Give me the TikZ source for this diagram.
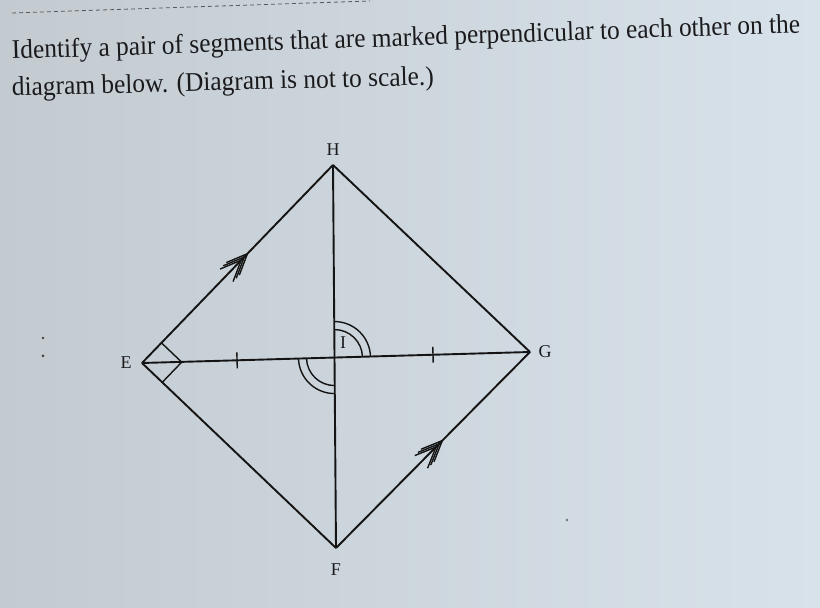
\documentclass[tikz,border=0pt]{standalone}
\usepackage{fontspec}
\setmainfont{Liberation Serif}
\usetikzlibrary{calc,angles,decorations.markings}
\definecolor{bgL}{RGB}{195,203,209}
\definecolor{bgR}{RGB}{216,226,234}
\definecolor{ink}{RGB}{20,20,20}
\definecolor{txt}{RGB}{26,26,28}
\tikzset{
  seg/.style={draw=ink, line width=1.9pt},
  lbl/.style={text=txt, font=\fontsize{18}{20}\selectfont, inner sep=0pt},
  qline/.style={text=txt, font=\fontsize{27}{30}\selectfont, anchor=base west, inner sep=0pt},
  tickmark/.style={draw=ink, line width=1.4pt},
  arcmark/.style={draw=ink, line width=1.4pt},
  triarr/.style={postaction={decorate}, decoration={markings,
     mark=at position #1 with {
       \foreach \k in {0,4.5,9}{
         \draw[ink, line width=1.4pt] (-\k pt-21pt,9pt) -- (-\k pt,0pt) -- (-\k pt-21pt,-9pt);
       }}}}
}
\begin{document}
\begin{tikzpicture}[x=1pt,y=1pt]
\useasboundingbox (0,0) rectangle (820,608);
\shade[left color=bgL, right color=bgR] (0,0) rectangle (820,608);
% top dashed border fragment
\coordinate (d1) at (12,595);
\coordinate (d2) at (370,607);
\draw[gray!70!black, line width=0.8pt, dash pattern=on 4pt off 3pt] (d1) -- (d2);
% question text
\node[qline, rotate=1.9] (q1) at (12,549) {\scalebox{0.94}[1]{Identify a pair of segments that are marked perpendicular to each other on the}};
\node[qline, rotate=1.5] (q2) at (12,512) {\scalebox{0.94}[1]{diagram below. (Diagram is not to scale.)}};
% points
\coordinate (H) at (333,443);
\coordinate (F) at (336,60);
\coordinate (E) at (142,245);
\coordinate (G) at (530,256);
\coordinate (I) at (intersection of E--G and H--F);
% segments
\draw[seg, triarr=0.552] (E) -- (H);
\draw[seg] (H) -- (G);
\draw[seg] (E) -- (F);
\draw[seg, triarr=0.548] (F) -- (G);
\draw[seg] (E) -- (G);
\draw[seg] (H) -- (F);
% right angle at E
\coordinate (e1) at ($(E)!28pt!(H)$);
\coordinate (e2) at ($(E)!28pt!(F)$);
\coordinate (e3) at ($(e1)+(e2)-(E)$);
\draw[tickmark] (e1) -- (e3) -- (e2);
% tick marks on EI and IG
\coordinate (t1) at ($(E)!0.245!(G)$);
\coordinate (t2) at ($(E)!0.750!(G)$);
\draw[tickmark] ($(t1)!8pt!90:(G)$) -- ($(t1)!8pt!-90:(G)$);
\draw[tickmark] ($(t2)!8pt!90:(G)$) -- ($(t2)!8pt!-90:(G)$);
% congruent angle marks at I
\pic[arcmark, angle radius=28pt] {angle=G--I--H};
\pic[arcmark, angle radius=36pt] {angle=G--I--H};
\pic[arcmark, angle radius=28pt] {angle=E--I--F};
\pic[arcmark, angle radius=36pt] {angle=E--I--F};
% labels
\node[lbl] (lH) at (333,458) {H};
\node[lbl] (lF) at (336,38) {F};
\node[lbl] (lE) at (126,245) {E};
\node[lbl] (lG) at (545,256) {G};
\node[lbl] (lI) at (343,265) {I};
% stray specks
\fill[ink!80] (43,270) circle (1.3pt);
\fill[ink!80] (43,252) circle (1.5pt);
\fill[ink!60] (567,88) circle (1.3pt);
\end{tikzpicture}
\end{document}
